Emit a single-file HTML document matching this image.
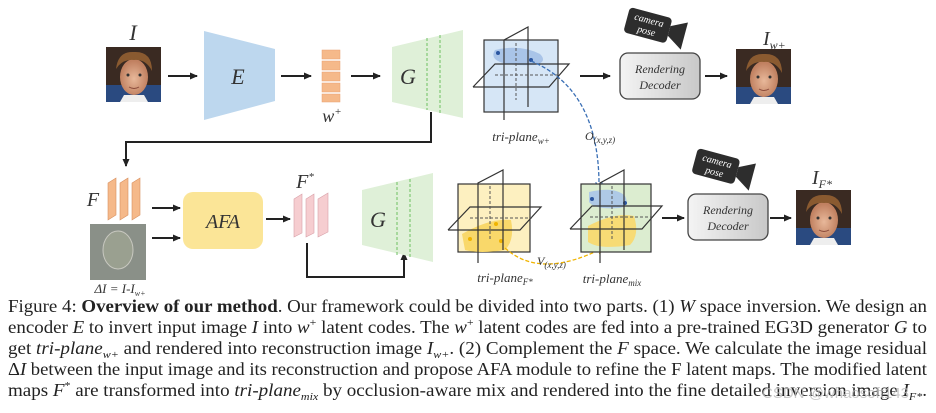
<!DOCTYPE html>
<html><head><meta charset="utf-8"><style>
html,body{margin:0;padding:0;background:#fff;width:936px;height:413px;overflow:hidden}
svg{display:block}
.it{font-family:"Liberation Serif",serif;font-style:italic;fill:#333}
.cap{font-family:"Liberation Serif",serif;font-size:17.5px;fill:#222}
</style></head><body>
<svg width="936" height="413" viewBox="0 0 936 413" xmlns="http://www.w3.org/2000/svg">
<defs>
<marker id="ah" markerWidth="8" markerHeight="8" refX="7" refY="4" orient="auto" markerUnits="userSpaceOnUse"><path d="M0,0.5 L8,4 L0,7.5 z" fill="#222"/></marker>
<marker id="bh" markerWidth="7" markerHeight="7" refX="6" refY="3.5" orient="auto" markerUnits="userSpaceOnUse"><path d="M0,0 L7,3.5 L0,7" fill="none" stroke="#3a6fb5" stroke-width="1.2"/></marker>
<marker id="yh" markerWidth="7" markerHeight="7" refX="6" refY="3.5" orient="auto" markerUnits="userSpaceOnUse"><path d="M0,0 L7,3.5 L0,7" fill="none" stroke="#f0b400" stroke-width="1.2"/></marker>
<linearGradient id="dec" x1="0" x2="1"><stop offset="0" stop-color="#f4f4f4"/><stop offset="1" stop-color="#c8c8c8"/></linearGradient>
<radialGradient id="skin" cx="0.5" cy="0.55" r="0.5"><stop offset="0" stop-color="#e8b89a"/><stop offset="1" stop-color="#c08060"/></radialGradient>
<g id="face">
<rect width="55" height="55" fill="#3a2a22"/>
<rect y="38" width="55" height="17" fill="#2a4a80"/>
<ellipse cx="28" cy="30" rx="14" ry="18" fill="url(#skin)"/>
<path d="M10,22 Q12,4 28,5 Q46,4 46,24 Q40,12 28,13 Q16,12 10,22z" fill="#8a5a30"/>
<path d="M18,48 L38,48 L42,55 L14,55z" fill="#eee"/>
<circle cx="22" cy="28" r="1.5" fill="#333"/><circle cx="34" cy="28" r="1.5" fill="#333"/>
<path d="M23,40 Q28,43 33,40" stroke="#8a4a3a" fill="none"/>
</g>
<g id="cam">
<g transform="rotate(15)">
<rect x="0" y="0" width="44" height="26" rx="4" fill="#2d2d2d"/>
<path d="M44,8 L60,0 L60,28 L44,18z" fill="#2d2d2d"/>
<text x="22" y="11" text-anchor="middle" class="it" style="fill:#fff;font-size:10px">camera</text>
<text x="22" y="22" text-anchor="middle" class="it" style="fill:#fff;font-size:10px">pose</text>
</g></g>
</defs>

<!-- TOP ROW -->
<text x="133" y="40" class="it" font-size="22" text-anchor="middle">I</text>
<use href="#face" x="106" y="47"/>
<line x1="168" y1="76" x2="197" y2="76" stroke="#222" stroke-width="2" marker-end="url(#ah)"/>
<polygon points="204,31 275,49 275,101 204,120" fill="#bdd7ee"/>
<text x="238" y="84" class="it" font-size="22" text-anchor="middle">E</text>
<line x1="281" y1="76" x2="311" y2="76" stroke="#222" stroke-width="2" marker-end="url(#ah)"/>
<g fill="#f5b98a" stroke="#e8a070" stroke-width="0.5">
<rect x="322" y="50" width="18" height="9"/><rect x="322" y="61" width="18" height="9"/><rect x="322" y="72" width="18" height="9"/><rect x="322" y="83" width="18" height="9"/><rect x="322" y="94" width="18" height="8"/>
</g>
<text x="332" y="122" class="it" font-size="18" text-anchor="middle">w<tspan font-size="11" dy="-7">+</tspan></text>
<line x1="351" y1="76" x2="380" y2="76" stroke="#222" stroke-width="2" marker-end="url(#ah)"/>
<polygon points="392,47 463,30 463,118 392,102" fill="#dff0d8"/>
<line x1="427" y1="38" x2="427" y2="110" stroke="#6cbf60" stroke-dasharray="3,2"/>
<line x1="440" y1="35" x2="440" y2="113" stroke="#6cbf60" stroke-dasharray="3,2"/>
<text x="408" y="84" class="it" font-size="22" text-anchor="middle">G</text>

<!-- triplane w+ -->
<rect x="484" y="40" width="74" height="72" fill="#d6e6f6" stroke="#333" stroke-width="1.2"/>
<path d="M495,50 Q520,44 540,54 Q548,62 535,65 Q510,66 500,62 Q490,58 495,50z" fill="#a9c4e8"/>
<circle cx="498" cy="53" r="2" fill="#2a55a0"/><circle cx="531" cy="60" r="2" fill="#2a55a0"/>
<polyline points="473,87 495,64 569,64 549,87 473,87" fill="none" stroke="#333" stroke-width="1.2"/>
<polyline points="504,120 504,40 528,27 528,107" fill="none" stroke="#333" stroke-width="1.2"/>
<line x1="495" y1="75" x2="560" y2="75" stroke="#555" stroke-dasharray="3,2"/>
<line x1="516" y1="43" x2="516" y2="100" stroke="#555" stroke-dasharray="3,2"/>
<text x="521" y="141" class="it" font-size="13" text-anchor="middle">tri-plane<tspan font-size="9" dy="3">w+</tspan></text>
<path d="M531,61 Q600,90 599,188" fill="none" stroke="#3a6fb5" stroke-width="1.3" stroke-dasharray="4,2" marker-end="url(#bh)"/>
<text x="585" y="140" class="it" font-size="12">O<tspan font-size="9" dy="3">(x,y,z)</tspan></text>

<line x1="580" y1="76" x2="610" y2="76" stroke="#222" stroke-width="2" marker-end="url(#ah)"/>
<rect x="620" y="53" width="80" height="46" rx="8" fill="url(#dec)" stroke="#444" stroke-width="1.3"/>
<text x="660" y="73" class="it" font-size="12" text-anchor="middle" fill="#555">Rendering</text>
<text x="660" y="89" class="it" font-size="12" text-anchor="middle" fill="#555">Decoder</text>
<use href="#cam" x="630" y="7"/>
<line x1="705" y1="76" x2="727" y2="76" stroke="#222" stroke-width="2" marker-end="url(#ah)"/>
<use href="#face" x="736" y="49"/>
<text x="763" y="45" class="it" font-size="20">I<tspan font-size="12" dy="4">w+</tspan></text>

<!-- connector G to F -->
<polyline points="431,112 431,142 126,142 126,166" fill="none" stroke="#222" stroke-width="2" marker-end="url(#ah)"/>

<!-- BOTTOM ROW -->
<text x="93" y="206" class="it" font-size="20" text-anchor="middle">F</text>
<g fill="#f5b98a" stroke="#d89060" stroke-width="0.6">
<polygon points="108,183 116,178 116,215 108,220"/><polygon points="120,183 128,178 128,215 120,220"/><polygon points="132,183 140,178 140,215 132,220"/>
</g>
<rect x="90" y="224" width="56" height="56" fill="#8a9088"/>
<ellipse cx="118" cy="250" rx="15" ry="19" fill="#9aa090" stroke="#c8c8c0" stroke-width="1"/>
<text x="120" y="293" class="it" font-size="13" text-anchor="middle">ΔI = I-I<tspan font-size="8" dy="3">w+</tspan></text>
<line x1="152" y1="208" x2="180" y2="208" stroke="#222" stroke-width="2" marker-end="url(#ah)"/>
<line x1="152" y1="238" x2="180" y2="238" stroke="#222" stroke-width="2" marker-end="url(#ah)"/>
<rect x="183" y="192" width="80" height="57" rx="10" fill="#fbe597"/>
<text x="223" y="228" class="it" font-size="20" text-anchor="middle">AFA</text>
<line x1="266" y1="219" x2="290" y2="219" stroke="#222" stroke-width="2" marker-end="url(#ah)"/>
<g fill="#f6cdd0" stroke="#d8a0a8" stroke-width="0.6">
<polygon points="294,199 302,194 302,233 294,237"/><polygon points="306,199 314,194 314,233 306,237"/><polygon points="318,199 328,193 328,232 318,237"/>
</g>
<text x="305" y="188" class="it" font-size="20" text-anchor="middle">F<tspan font-size="11" dy="-8">*</tspan></text>
<polyline points="307,243 307,277 404,277 404,253" fill="none" stroke="#222" stroke-width="2" marker-end="url(#ah)"/>
<polygon points="362,190 433,173 433,262 362,245" fill="#dff0d8"/>
<line x1="397" y1="182" x2="397" y2="256" stroke="#6cbf60" stroke-dasharray="3,2"/>
<line x1="410" y1="179" x2="410" y2="259" stroke="#6cbf60" stroke-dasharray="3,2"/>
<text x="378" y="227" class="it" font-size="22" text-anchor="middle">G</text>

<!-- triplane F* -->
<rect x="458" y="184" width="72" height="68" fill="#fdf0c0" stroke="#333" stroke-width="1.2"/>
<path d="M462,234 Q490,218 511,220 Q515,240 505,250 Q480,254 465,250z" fill="#f9d86a"/>
<circle cx="470" cy="239" r="2" fill="#f0b400"/><circle cx="496" cy="224" r="2" fill="#f0b400"/><circle cx="501" cy="241" r="2" fill="#f0b400"/>
<polyline points="448,230 470,207 541,207 520,230 448,230" fill="none" stroke="#333" stroke-width="1.2"/>
<polyline points="478,263 478,183 503,170 503,250" fill="none" stroke="#333" stroke-width="1.2"/>
<line x1="470" y1="218" x2="532" y2="218" stroke="#555" stroke-dasharray="3,2"/>
<line x1="490" y1="186" x2="490" y2="240" stroke="#555" stroke-dasharray="3,2"/>
<text x="505" y="282" class="it" font-size="13" text-anchor="middle">tri-plane<tspan font-size="9" dy="3">F*</tspan></text>
<path d="M505,248 Q540,280 603,248" fill="none" stroke="#f0b400" stroke-width="1.3" stroke-dasharray="4,2" marker-end="url(#yh)"/>
<text x="537" y="265" class="it" font-size="12">V<tspan font-size="9" dy="3">(x,y,z)</tspan></text>

<!-- triplane mix -->
<rect x="581" y="184" width="70" height="68" fill="#dcedd0" stroke="#333" stroke-width="1.2"/>
<path d="M589,192 Q615,186 625,196 Q630,206 620,208 Q595,210 589,202z" fill="#a9c4e8" opacity="0.9"/>
<circle cx="592" cy="199" r="2" fill="#2a55a0"/><circle cx="625" cy="203" r="2" fill="#2a55a0"/>
<path d="M588,226 Q615,212 634,216 Q640,235 630,245 Q600,250 588,242z" fill="#f9d86a" opacity="0.9"/>
<polyline points="570,229 592,206 662,206 642,229 570,229" fill="none" stroke="#333" stroke-width="1.2"/>
<polyline points="600,263 600,183 624,170 624,250" fill="none" stroke="#333" stroke-width="1.2"/>
<line x1="590" y1="217" x2="652" y2="217" stroke="#555" stroke-dasharray="3,2"/>
<line x1="612" y1="186" x2="612" y2="240" stroke="#555" stroke-dasharray="3,2"/>
<text x="612" y="283" class="it" font-size="13" text-anchor="middle">tri-plane<tspan font-size="9" dy="3">mix</tspan></text>

<line x1="662" y1="218" x2="684" y2="218" stroke="#222" stroke-width="2" marker-end="url(#ah)"/>
<rect x="688" y="194" width="80" height="46" rx="8" fill="url(#dec)" stroke="#444" stroke-width="1.3"/>
<text x="728" y="214" class="it" font-size="12" text-anchor="middle" fill="#555">Rendering</text>
<text x="728" y="230" class="it" font-size="12" text-anchor="middle" fill="#555">Decoder</text>
<use href="#cam" x="698" y="148"/>
<line x1="770" y1="218" x2="791" y2="218" stroke="#222" stroke-width="2" marker-end="url(#ah)"/>
<use href="#face" x="796" y="190"/>
<text x="812" y="184" class="it" font-size="20">I<tspan font-size="12" dy="4">F*</tspan></text>

<!-- CAPTION -->
<text class="cap" x="8" y="312" textLength="919" lengthAdjust="spacingAndGlyphs">Figure 4: <tspan font-weight="bold">Overview of our method</tspan>. Our framework could be divided into two parts. (1) <tspan font-style="italic">W</tspan> space inversion. We design an</text>
<text class="cap" x="8" y="333" textLength="919" lengthAdjust="spacingAndGlyphs">encoder <tspan font-style="italic">E</tspan> to invert input image <tspan font-style="italic">I</tspan> into <tspan font-style="italic">w</tspan><tspan font-size="11" dy="-7">+</tspan><tspan dy="7"> latent codes. The </tspan><tspan font-style="italic">w</tspan><tspan font-size="11" dy="-7">+</tspan><tspan dy="7"> latent codes are fed into a pre-trained EG3D generator </tspan><tspan font-style="italic">G</tspan> to</text>
<text class="cap" x="8" y="354" textLength="919" lengthAdjust="spacingAndGlyphs">get <tspan font-style="italic">tri-plane</tspan><tspan font-size="11" font-style="italic" dy="4">w+</tspan><tspan dy="-4"> and rendered into reconstruction image </tspan><tspan font-style="italic">I</tspan><tspan font-size="11" font-style="italic" dy="4">w+</tspan><tspan dy="-4">. (2) Complement the </tspan><tspan font-style="italic">F</tspan> space. We calculate the image residual</text>
<text class="cap" x="8" y="375" textLength="919" lengthAdjust="spacingAndGlyphs">Δ<tspan font-style="italic">I</tspan> between the input image and its reconstruction and propose AFA module to refine the F latent maps. The modified latent</text>
<text class="cap" x="8" y="396" textLength="919" lengthAdjust="spacingAndGlyphs">maps <tspan font-style="italic">F</tspan><tspan font-size="11" dy="-7">*</tspan><tspan dy="7"> are transformed into </tspan><tspan font-style="italic">tri-plane</tspan><tspan font-size="11" font-style="italic" dy="4">mix</tspan><tspan dy="-4"> by occlusion-aware mix and rendered into the fine detailed inversion image </tspan><tspan font-style="italic">I</tspan><tspan font-size="11" font-style="italic" dy="4">F*</tspan><tspan dy="-4">.</tspan></text>
<text x="762" y="398" font-family="Liberation Sans,sans-serif" font-size="15" fill="#bbb" opacity="0.8">CSDN @whaosoft143</text>
</svg>
</body></html>
